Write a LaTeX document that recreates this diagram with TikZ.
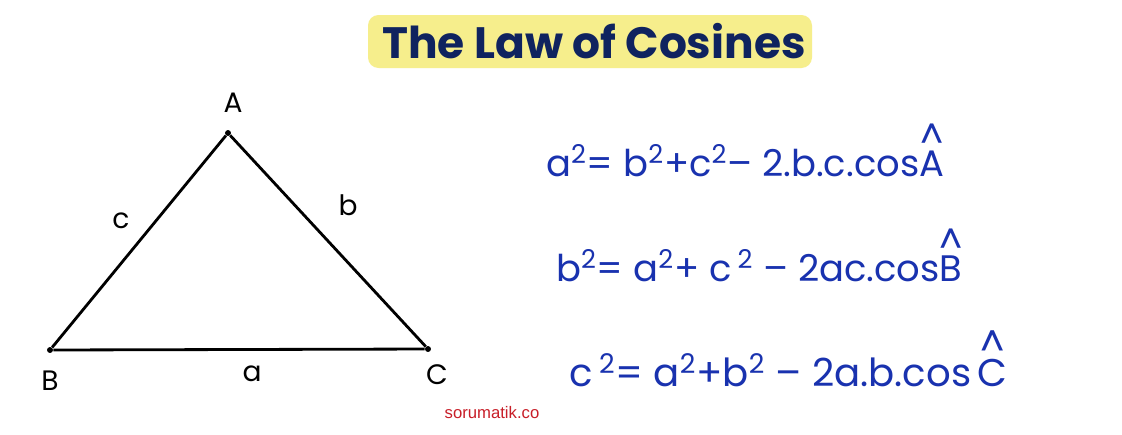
\documentclass[tikz,border=0pt]{standalone}
\usepackage{fontspec}
\setmainfont{Poppins}
\newfontfamily\markfont{Liberation Sans}
\usetikzlibrary{positioning}
\definecolor{penblue}{RGB}{25,50,175}
\definecolor{navy}{RGB}{15,35,95}
\definecolor{marker}{RGB}{246,238,140}
\definecolor{markred}{RGB}{200,30,40}
\newcommand{\sq}{\textsuperscript{2}}
\newcommand{\hatted}[1]{\ooalign{#1\cr\hidewidth\raisebox{0.74em}{\textasciicircum}\hidewidth\cr}}
\tikzset{
  vertex/.style={circle, fill, inner sep=1.2pt},
  side/.style={draw, line width=1.6pt, line join=round},
  letter/.style={font=\fontsize{16}{16}\selectfont},
  formula/.style={text=penblue, anchor=west, font=\fontsize{21}{21}\selectfont}
}
\begin{document}
\begin{tikzpicture}[x=0.02cm,y=-0.02cm]
\fill[white] (0,0) rectangle (1122,434);
\useasboundingbox (0,0) rectangle (1122,434);
% title
\fill[marker, rounded corners=6pt] (368,15) rectangle (812,68);
\node[text=navy, font=\bfseries\fontsize{25}{25}\selectfont] (title) at (594,41) {The Law of Cosines};
% triangle
\node[vertex] (A) at (228,133) {};
\node[vertex] (B) at (50,350) {};
\node[vertex] (C) at (428,349) {};
\path[side] (A) -- (B);
\path[side] (A) -- (C);
\path[side] (B) -- (C);
\node[letter] (labA) at (233,103) {A};
\node[letter] (labB) at (50,381) {B};
\node[letter] (labC) at (437,375) {C};
\node[letter] (laba) at (252,374) {a};
\node[letter] (labb) at (348,205) {b};
\node[letter] (labc) at (121,221) {c};
% formulas
\node[formula] (eqA) at (540,161) {a\sq{}= b\sq{}+c\sq{}-- 2.b.c.cos\hatted{A}};
\node[formula] (eqB) at (550,266) {b\sq{}= a\sq{}+ c\,\sq{} -- 2ac.cos\hatted{B}};
\node[formula, font=\fontsize{22}{22}\selectfont] (eqC) at (563,370) {c\,\sq{}= a\sq{}+b\sq{} -- 2a.b.cos\,\hatted{C}};
% watermark
\node[text=markred, font=\markfont\fontsize{9.5}{10}\selectfont] (mark) at (492,413) {sorumatik.co};
\end{tikzpicture}
\end{document}
